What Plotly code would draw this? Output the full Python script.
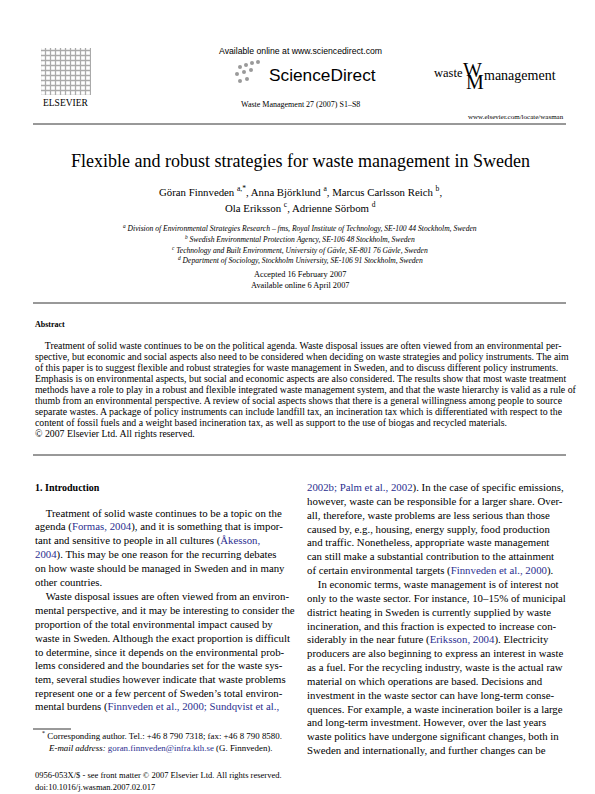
import plotly.graph_objects as go

SERIF = "Liberation Serif"
LINK = "#2b2f8f"

def L(t):
    return f"<span style='color:{LINK}'>{t}</span>"

abstract_lines = [
    "    Treatment of solid waste continues to be on the political agenda. Waste disposal issues are often viewed from an environmental per-",
    "spective, but economic and social aspects also need to be considered when deciding on waste strategies and policy instruments. The aim",
    "of this paper is to suggest flexible and robust strategies for waste management in Sweden, and to discuss different policy instruments.",
    "Emphasis is on environmental aspects, but social and economic aspects are also considered. The results show that most waste treatment",
    "methods have a role to play in a robust and flexible integrated waste management system, and that the waste hierarchy is valid as a rule of",
    "thumb from an environmental perspective. A review of social aspects shows that there is a general willingness among people to source",
    "separate wastes. A package of policy instruments can include landfill tax, an incineration tax which is differentiated with respect to the",
    "content of fossil fuels and a weight based incineration tax, as well as support to the use of biogas and recycled materials.",
    "© 2007 Elsevier Ltd. All rights reserved.",
]

left_lines = [
    "    Treatment of solid waste continues to be a topic on the",
    "agenda (" + L("Formas, 2004") + "), and it is something that is impor-",
    "tant and sensitive to people in all cultures (" + L("Åkesson,"),
    L("2004") + "). This may be one reason for the recurring debates",
    "on how waste should be managed in Sweden and in many",
    "other countries.",
    "    Waste disposal issues are often viewed from an environ-",
    "mental perspective, and it may be interesting to consider the",
    "proportion of the total environmental impact caused by",
    "waste in Sweden. Although the exact proportion is difficult",
    "to determine, since it depends on the environmental prob-",
    "lems considered and the boundaries set for the waste sys-",
    "tem, several studies however indicate that waste problems",
    "represent one or a few percent of Sweden’s total environ-",
    "mental burdens (" + L("Finnveden et al., 2000; Sundqvist et al.,"),
]

right_lines = [
    L("2002b; Palm et al., 2002") + "). In the case of specific emissions,",
    "however, waste can be responsible for a larger share. Over-",
    "all, therefore, waste problems are less serious than those",
    "caused by, e.g., housing, energy supply, food production",
    "and traffic. Nonetheless, appropriate waste management",
    "can still make a substantial contribution to the attainment",
    "of certain environmental targets (" + L("Finnveden et al., 2000") + ").",
    "    In economic terms, waste management is of interest not",
    "only to the waste sector. For instance, 10–15% of municipal",
    "district heating in Sweden is currently supplied by waste",
    "incineration, and this fraction is expected to increase con-",
    "siderably in the near future (" + L("Eriksson, 2004") + "). Electricity",
    "producers are also beginning to express an interest in waste",
    "as a fuel. For the recycling industry, waste is the actual raw",
    "material on which operations are based. Decisions and",
    "investment in the waste sector can have long-term conse-",
    "quences. For example, a waste incineration boiler is a large",
    "and long-term investment. However, over the last years",
    "waste politics have undergone significant changes, both in",
    "Sweden and internationally, and further changes can be",
]

affiliations = [
    "<sup>a</sup> Division of Environmental Strategies Research – fms, Royal Institute of Technology, SE-100 44 Stockholm, Sweden",
    "<sup>b</sup> Swedish Environmental Protection Agency, SE-106 48 Stockholm, Sweden",
    "<sup>c</sup> Technology and Built Environment, University of Gävle, SE-801 76 Gävle, Sweden",
    "<sup>d</sup> Department of Sociology, Stockholm University, SE-106 91 Stockholm, Sweden",
]

fig = go.Figure()
ann = []

def txt(x, y, t, size, xa="left", family=SERIF, color="black"):
    ann.append(dict(x=x, y=y, text=t, showarrow=False, xanchor=xa, yanchor="middle",
                    font=dict(family=family, size=size, color=color)))

IND = "&nbsp;&nbsp;&nbsp;&nbsp;"
LM, RM = 25, 558
RC = 297
CX = 292

# Header
txt(CX, 43, "Available online at www.sciencedirect.com", 8.7, "center", family="Liberation Sans")
txt(259, 67, "ScienceDirect", 17.3, "left", family="Liberation Sans")
fig.add_trace(go.Scatter(x=[232, 238, 244, 250, 229, 236, 243, 232, 239],
                         y=[59, 57, 55, 54, 66, 64, 62, 73, 71], mode="markers",
                         marker=dict(color="#9a9a9a", size=4),
                         hoverinfo="skip", showlegend=False))
txt(CX, 96, "Waste Management 27 (2007) S1–S8", 8, "center")
txt(RM, 109, "www.elsevier.com/locate/wasman", 7, "right")
txt(457, 65, "waste", 12.5, "right")
txt(464, 62, "W", 20, "center")
txt(467, 74, "M", 20, "center")
txt(474, 67, "management", 14, "left")
# Elsevier logo
fig.add_trace(go.Scatter(x=[LM + 8, LM + 58, LM + 58, LM + 8, LM + 8], y=[40, 40, 87, 87, 40],
                         mode="lines", fill="toself", fillcolor="white", line=dict(width=0),
                         fillpattern=dict(shape="+", fgcolor="#555555", size=5, solidity=0.45),
                         hoverinfo="skip", showlegend=False))
txt(LM + 33, 95, "ELSEVIER", 9.5, "center")

shapes = [
    dict(type="line", x0=LM, x1=RM, y0=116, y1=116, line=dict(color="#333", width=1)),
    dict(type="line", x0=LM, x1=RM, y0=295, y1=295, line=dict(color="#333", width=1)),
    dict(type="line", x0=LM, x1=RM, y0=447, y1=447, line=dict(color="#333", width=1)),
    dict(type="line", x0=LM, x1=LM + 38, y0=721, y1=721, line=dict(color="black", width=0.8)),
]

# Title block
txt(CX, 153, "Flexible and robust strategies for waste management in Sweden", 18, "center")
txt(CX, 183, "Göran Finnveden <sup>a,*</sup>, Anna Björklund <sup>a</sup>, Marcus Carlsson Reich <sup>b</sup>,", 10.8, "center")
txt(CX, 199, "Ola Eriksson <sup>c</sup>, Adrienne Sörbom <sup>d</sup>", 10.8, "center")
for i, a in enumerate(affiliations):
    txt(CX, 220 + i * 10.8, "<i>" + a + "</i>", 7.6, "center")
txt(CX, 266, "Accepted 16 February 2007", 8.3, "center")
txt(CX, 277, "Available online 6 April 2007", 8.3, "center")

# Abstract
txt(LM, 316, "<b>Abstract</b>", 8)
for i, t in enumerate(abstract_lines):
    txt(LM, 337 + i * 11.1, t.replace("    ", IND), 9.8)

# Body
txt(LM, 479, "<b>1. Introduction</b>", 10)
for i, t in enumerate(left_lines):
    txt(LM, 505 + i * 13.85, t.replace("    ", IND), 10.8)
for i, t in enumerate(right_lines):
    txt(RC, 479 + i * 13.85, t.replace("    ", IND), 10.8)

txt(LM + 7, 727, "<sup>*</sup> Corresponding author. Tel.: +46 8 790 7318; fax: +46 8 790 8580.", 8.9)
txt(LM + 13, 740, "<i>E-mail address:</i> " + L("goran.finnveden@infra.kth.se") + " (G. Finnveden).", 8.9)
txt(LM, 767, "0956-053X/$ - see front matter © 2007 Elsevier Ltd. All rights reserved.", 8.5)
txt(LM, 779, "doi:10.1016/j.wasman.2007.02.017", 8.5)

fig.update_layout(
    width=595, height=794, margin=dict(l=0, r=0, t=0, b=0),
    paper_bgcolor="white", plot_bgcolor="white",
    xaxis=dict(range=[0, 595], visible=False, fixedrange=True),
    yaxis=dict(range=[794, 0], visible=False, fixedrange=True),
    annotations=ann, shapes=shapes, showlegend=False,
)
fig.write_html("out.html")
